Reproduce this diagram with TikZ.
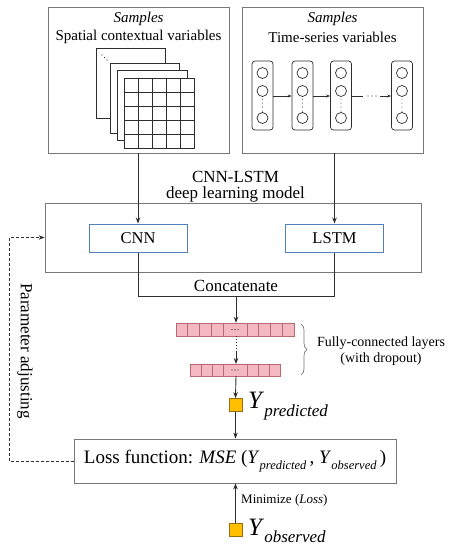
\documentclass[tikz,border=0pt]{standalone}
\usepackage{fontspec}
\setmainfont{Liberation Serif}
\usetikzlibrary{arrows.meta,decorations.pathreplacing}
\definecolor{boxgray}{RGB}{120,120,120}
\definecolor{linedark}{RGB}{45,45,45}
\definecolor{nnblue}{RGB}{79,129,189}
\definecolor{fcfill}{RGB}{244,185,192}
\definecolor{fcdraw}{RGB}{185,105,115}
\definecolor{yfill}{RGB}{255,190,0}
\definecolor{ydraw}{RGB}{150,110,20}
\newcommand{\fs}[1]{\fontsize{#1}{#1}\selectfont}
\newcommand{\Ysub}[3]{\textit{Y}\raisebox{-0.3em}{\fs{#2}\textit{#1}}}
\begin{document}
\begin{tikzpicture}[x=1pt,y=-1pt,
  samplebox/.style={draw=boxgray,line width=0.8pt,minimum width=181pt,minimum height=146pt,inner sep=0pt},
  modelbox/.style={draw=boxgray,line width=0.8pt,minimum width=376pt,minimum height=69pt,inner sep=0pt},
  nnbox/.style={draw=nnblue,line width=1pt,minimum width=98pt,minimum height=28pt,inner sep=0pt,font=\fs{16.5}},
  lossbox/.style={draw=boxgray,line width=0.8pt,minimum width=322pt,minimum height=44pt,inner sep=0pt,font=\fs{19}},
  ysq/.style={draw=ydraw,fill=yfill,line width=0.7pt,minimum width=13pt,minimum height=13pt,inner sep=0pt},
  conn/.style={draw=linedark,line width=0.9pt},
  arr/.style={conn,-{Stealth[length=6pt,width=4.5pt]}},
  sheet/.style={draw=linedark,line width=0.6pt,fill=white},
  cell/.style={draw=linedark,line width=0.7pt,rounded corners=3pt},
  neuron/.style={draw=linedark,line width=0.7pt,circle,minimum size=11pt,inner sep=0pt},
  fccell/.style={draw=fcdraw,fill=fcfill,line width=0.6pt},
  txt/.style={inner sep=0pt}
]
\useasboundingbox (0,0) rectangle (449,550);
% sample boxes
\node[samplebox] (lbox) at (138.5,80) {};
\node[samplebox] (rbox) at (332.5,80) {};
\node[txt,font=\fs{15}\itshape] (ls) at (138.5,19) {Samples};
\node[txt,font=\fs{15}] (lt) at (138.5,37) {Spatial contextual variables};
\node[txt,font=\fs{15}\itshape] (rs) at (332.5,19) {Samples};
\node[txt,font=\fs{15}] (rt) at (332.5,37) {Time-series variables};
% stacked grids
\draw[sheet] (96,48) rectangle ++(69,70);
\foreach \i in {0,1,2} \fill[linedark] (102+2.5*\i,55+2.5*\i) circle (0.6);
\draw[sheet] (110,63) rectangle ++(69,70);
\draw[sheet] (117,70) rectangle ++(70,70);
\draw[sheet] (124,78) rectangle ++(70,70);
\foreach \k in {1,2,3,4} {
  \draw[linedark,line width=0.6pt] (124+14*\k,78) -- (124+14*\k,148);
  \draw[linedark,line width=0.6pt] (124,78+14*\k) -- (194,78+14*\k);
}
% LSTM time cells
\foreach \n/\cx in {c1/262.5,c2/302.5,c3/341,c4/402} {
  \node[cell,minimum width=21pt,minimum height=69pt] (\n) at (\cx,95.5) {};
  \node[neuron] at (\cx,73) {};
  \node[neuron] at (\cx,91) {};
  \node[neuron] at (\cx,118) {};
  \foreach \d in {99,103,107,111} \fill[linedark] (\cx,\d) circle (0.5);
}
\draw[arr,line width=0.6pt,-{Stealth[length=4pt,width=3pt]}] (c1.east |- 0,96) -- (c2.west |- 0,96);
\draw[arr,line width=0.6pt,-{Stealth[length=4pt,width=3pt]}] (c2.east |- 0,96) -- (c3.west |- 0,96);
\draw[conn,line width=0.6pt] (c3.east |- 0,96) -- (363,96);
\foreach \d in {368,372,376} \fill[linedark] (\d,96) circle (0.6);
\draw[arr,line width=0.6pt,-{Stealth[length=4pt,width=3pt]}] (380,96) -- (c4.west |- 0,96);
% model
\node[txt,font=\fs{17}] (t1) at (235.5,177) {CNN-LSTM};
\node[txt,font=\fs{17}] (t2) at (235.5,194) {deep learning model};
\node[modelbox] (model) at (233,237.5) {};
\node[nnbox] (cnn) at (138,238) {CNN};
\node[nnbox] (lstm) at (334.5,238) {LSTM};
\draw[arr] (cnn.north |- lbox.south) -- (cnn.north);
\draw[arr] (lstm.north |- rbox.south) -- (lstm.north);
\coordinate (cl) at (138,296);
\coordinate (cr) at (334.5,296);
\coordinate (cm) at (236,296);
\draw[conn] (cnn.south) -- (cl) -- (cr) -- (lstm.south);
\node[txt,font=\fs{17}] (concat) at (236,286) {Concatenate};
% fully connected
\node[minimum width=118pt,minimum height=13pt,inner sep=0pt] (fc1) at (235,329.5) {};
\node[minimum width=90pt,minimum height=12pt,inner sep=0pt] (fc2) at (235,370) {};
\foreach \x in {176,187.75,199.5,211.25} \draw[fccell] (\x,323) rectangle ++(11.75,13);
\draw[fccell] (223,323) rectangle (247,336);
\foreach \x in {247,258.75,270.5,282.25} \draw[fccell] (\x,323) rectangle ++(11.75,13);
\foreach \x in {190,201,212} \draw[fccell] (\x,364) rectangle ++(11,12);
\draw[fccell] (223,364) rectangle (247,376);
\foreach \x in {247,258,269} \draw[fccell] (\x,364) rectangle ++(11,12);
\foreach \d in {232,235,238} {\fill[linedark] (\d,329.5) circle (0.55); \fill[linedark] (\d,370) circle (0.55);}
\draw[arr] (cm) -- (cm |- fc1.north);
\coordinate (dd) at (236,352);
\draw[conn,dotted,line width=1pt] (236,336) -- (dd);
\draw[arr] (dd) -- (236,364);
\draw[draw=boxgray,line width=0.7pt,decorate,decoration={brace,amplitude=6pt}] (301,324) -- (301,375);
\node[txt,font=\fs{14},align=center] (fctext) at (381,351) {Fully-connected layers\\[2pt](with dropout)};
% outputs and loss
\node[ysq] (yp) at (235.5,405) {};
\node[txt,anchor=west,font=\fs{25}] (ypl) at (248,406) {\Ysub{predicted}{17}{}};
\node[lossbox] (loss) at (235,461) {Loss function: \textit{MSE} (\Ysub{predicted}{12.5}{}\,, \Ysub{observed}{12.5}{}\,)};
\node[ysq] (yo) at (235.5,529.5) {};
\node[txt,anchor=west,font=\fs{25}] (yol) at (248,531) {\Ysub{observed}{17}{}};
\draw[arr] (236,376) -- (yp.north);
\draw[arr] (yp.south) -- (yp.south |- loss.north);
\draw[arr] (yo.north) -- (yo.north |- loss.south);
\node[txt,anchor=west,font=\fs{13}] (minl) at (241,500) {Minimize (\textit{Loss})};
% parameter feedback
\coordinate (dl) at (9,461);
\draw[conn,dashed,line width=0.8pt,dash pattern=on 3pt off 2pt,-{Stealth[length=6pt,width=4.5pt]}] (loss.west) -- (dl) |- (model.west);
\node[txt,font=\fs{17},rotate=-90] (padj) at (25,351) {Parameter adjusting};
\end{tikzpicture}
\end{document}
